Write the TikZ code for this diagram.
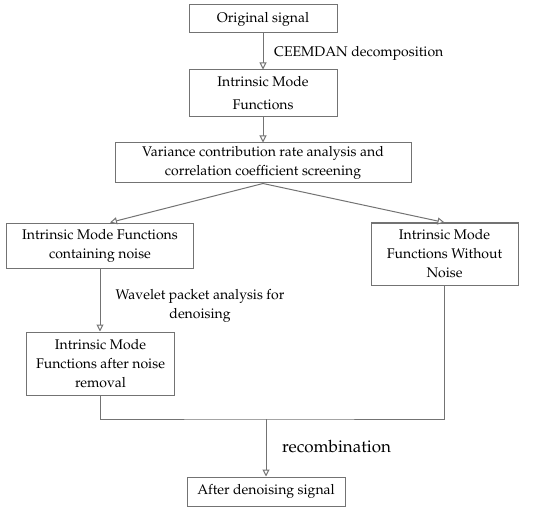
\documentclass[tikz,border=0pt]{standalone}
\usepackage[T1]{fontenc}
\usepackage{mathpazo}
\usetikzlibrary{arrows.meta}
\begin{document}
\begin{tikzpicture}[x=1bp,y=-1bp,
  every node/.style={font=\fontsize{14bp}{19bp}\selectfont, inner sep=0pt},
  box/.style={draw=black!55, line width=1bp, fill=white, align=center},
  conn/.style={draw=black!55, line width=1bp},
  arr/.style={conn, -{Triangle[open, width=7bp, length=7bp, fill=white]}}]
\useasboundingbox (0,0) rectangle (550,512);
\node[box, minimum width=148bp, minimum height=28bp] (orig) at (263,19) {Original signal};
\node[box, minimum width=148bp, minimum height=47bp, font=\fontsize{14bp}{23bp}\selectfont] (imf) at (263,93.5) {Intrinsic Mode\\Functions};
\node[box, minimum width=296bp, minimum height=40bp] (var) at (263,163) {Variance contribution rate analysis and\\correlation coefficient screening};
\node[box, minimum width=186bp, minimum height=45bp] (noisy) at (100,245.5) {Intrinsic Mode Functions\\containing noise};
\node[box, minimum width=147bp, minimum height=62bp] (clean) at (444.5,254) {Intrinsic Mode\\Functions Without\\Noise};
\node[box, minimum width=147bp, minimum height=63bp] (removed) at (100.5,363.5) {Intrinsic Mode\\Functions after noise\\removal};
\node[box, minimum width=158bp, minimum height=29bp] (final) at (266,491.5) {After denoising signal};
\coordinate (j) at (266,419);
\node[anchor=west] (l1) at (274,53) {CEEMDAN decomposition};
\node[align=center] (l2) at (200,306) {Wavelet packet analysis for\\denoising};
\node[anchor=west, font=\fontsize{17bp}{20bp}\selectfont] (l3) at (282,447) {recombination};
\draw[arr] (orig) -- (imf);
\draw[arr] (imf) -- (var);
\draw[arr] (var.south) -- ([xshift=10bp]noisy.north);
\draw[arr] (var.south) -- (clean.north);
\draw[arr] (noisy) -- (noisy|-removed.north);
\draw[conn] (removed.south) |- (j) -| (clean.south);
\draw[arr] (j) -- (final.north);
\end{tikzpicture}
\end{document}
